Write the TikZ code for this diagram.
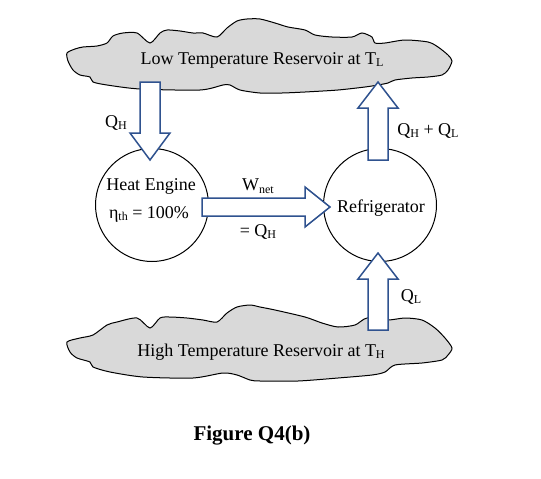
\documentclass[tikz,border=0pt]{standalone}
\usepackage{fontspec}
\setmainfont{Liberation Serif}
\newcommand{\sbs}[1]{\raisebox{-0.13em}{\fontsize{12}{12}\selectfont #1}}
\definecolor{arrowblue}{RGB}{47,82,143}
\definecolor{cloudgray}{RGB}{217,217,217}
\tikzset{
  cloudshape/.style={draw=black, fill=cloudgray, line width=1pt},
  blockarrow/.style={draw=arrowblue, fill=white, line width=1.5pt, line join=miter},
  device/.style={circle, draw=black, line width=1pt, minimum size=113pt, inner sep=0pt},
  lbl/.style={font=\fontsize{18}{21}\selectfont, inner sep=0pt, anchor=center},
}
\begin{document}
\begin{tikzpicture}[x=1pt, y=-1pt]
\useasboundingbox (0,0) rectangle (541,479);
% top cloud (low temperature reservoir)
\draw[cloudshape] plot[smooth cycle, tension=0.45] coordinates {
(67,53) (75,49) (83,47) (97,46) (107,43) (113,36) (123,33) (137,33) (150,43) (160,33) (167,30) (180,31) (193,33) (203,33) (217,37) (227,28) (237,21) (247,19) (260,19) (275,23) (288,27) (305,30) (315,35) (332,37) (352,37) (362,33) (372,37) (375,43) (385,43) (405,40) (428,42) (438,47) (448,55) (452,61) (448,70) (442,75) (428,77) (412,78) (395,80) (388,83) (378,85) (365,87) (338,90) (305,92) (282,93) (260,93) (240,90) (230,85) (223,85) (200,90) (140,89) (107,85) (93,82) (90,77) (80,75) (73,70) (68,61)};
% bottom cloud (high temperature reservoir)
\draw[cloudshape] plot[smooth cycle, tension=0.45] coordinates {
(67,342) (80,338) (93,335) (107,325) (117,322) (137,318) (150,328) (160,318) (170,317) (187,318) (203,320) (217,322) (227,313) (237,307) (250,305) (260,307) (275,310) (305,317) (322,323) (338,327) (355,325) (367,318) (388,320) (405,318) (422,320) (435,328) (445,338) (452,348) (448,355) (442,360) (422,363) (395,365) (385,372) (372,375) (338,378) (298,381) (260,381) (250,380) (237,375) (223,373) (193,378) (143,377) (110,372) (93,367) (90,362) (77,358) (70,352)};
% devices
\node[device] (he) at (152,205) {};
\node[device] (rf) at (380,205) {};
% block arrows
\draw[blockarrow] (140,82) -- (160,82) -- (160,133) -- (170,133) -- (150,160) -- (130,133) -- (140,133) -- cycle;
\draw[blockarrow] (202,198) -- (305,198) -- (305,187) -- (330,207) -- (305,227) -- (305,216) -- (202,216) -- cycle;
\draw[blockarrow] (368,160) -- (368,108) -- (358,108) -- (378,82) -- (398,108) -- (388,108) -- (388,160) -- cycle;
\draw[blockarrow] (368,330) -- (368,279) -- (358,279) -- (378,253) -- (398,279) -- (388,279) -- (388,330) -- cycle;
% labels
\node[lbl] (tl) at (262,60) {Low Temperature Reservoir at T\sbs{L}};
\node[lbl] (th) at (261,352) {High Temperature Reservoir at T\sbs{H}};
\node[lbl] (qh) at (116,123) {Q\sbs{H}};
\node[lbl] (hetxt) at (151,186) {Heat Engine};
\node[lbl] (eta) at (149,214) {η\sbs{th} = 100\%};
\node[lbl] (wnet) at (258,186) {W\sbs{net}};
\node[lbl] (eqqh) at (258,232) {= Q\sbs{H}};
\node[lbl] (rftxt) at (381,208) {Refrigerator};
\node[lbl] (qhql) at (428,131) {Q\sbs{H} + Q\sbs{L}};
\node[lbl] (ql) at (411,297) {Q\sbs{L}};
\node[font=\fontsize{21}{25}\selectfont\bfseries, inner sep=0pt] (cap) at (252,436) {Figure Q4(b)};
\end{tikzpicture}
\end{document}
